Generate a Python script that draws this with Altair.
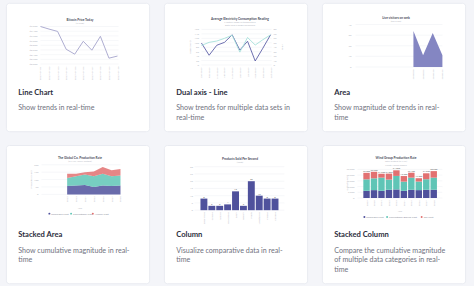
import altair as alt
import pandas as pd

FONT = "Lato"
INK = "#2b2d3c"
MUTED = "#707280"
TICK = "#b9bbc6"
GRID = "#f0f1f5"
PURPLE = "#4f519c"
TEAL = "#5fc5b6"
SALMON = "#e27171"
LAVENDER = "#a4a3cb"
LIGHT_TEAL = "#a6e0da"
AREA_FILL = "#8486c2"

CARD_W = 145
ROW1_H = 130
ROW2_H = 140

# ---------------- data ----------------
btc_dates = ["2019-07-01", "2019-07-02", "2019-07-03", "2019-07-04", "2019-07-05",
             "2019-07-06", "2019-07-07", "2019-07-08", "2019-07-09", "2019-07-10"]
btc_price = [9600, 9490, 9390, 8630, 8420, 8970, 8590, 9180, 8250, 8340]
btc_ticks = [8000, 8200, 8400, 8600, 8800, 9000, 9200, 9400, 9600]

elec_months = ["Jan 2019", "Feb 2019", "Mar 2019", "Apr 2019", "May 2019",
               "Jun 2019", "Jul 2019", "Aug 2019", "Sep 2019", "Oct 2019"]
elec_usage = [99, 44, 89, 102, 136, 67, 107, 18, 76, 136]
elec_temp = [44, 51, 54, 60, 67, 29, 62, 45, 57, 68]
elec_left_ticks = [0, 20, 40, 60, 80, 100, 120, 140, 160]
elec_right_ticks = [0, 10, 20, 30, 40, 50, 60, 70, 80]

visit_times = ["10:00:00", "10:00:05", "10:00:10", "10:00:15"]
visit_counts = [34, 11, 32, 11]
visit_ticks = [0, 10, 20, 30, 40]

area_years = ["2012", "2013", "2014", "2015", "2016", "2017", "2018"]
area_renew = [56, 60, 63, 49, 60, 56, 60]
area_conv = [55, 62, 71, 73, 80, 67, 67]
area_nuclear = [29, 17, 16, 33, 45, 40, 45]
area_ticks = [0, 50, 100, 150, 200]
area_series = ["Renewable Plant", "Conventional Plant", "Nuclear Plant"]

col_products = ["Baby Food", "Cereals", "Snacks", "Beverages", "Dairy",
                "Bakery", "Fruits", "Vegetables", "Frozen", "Canned"]
col_sold = [8, 3, 3, 4, 13, 3, 20, 10, 8, 8]
col_ticks = [0, 5, 10, 15, 20, 25, 30]

sc_years = ["2009", "2010", "2011", "2012", "2013", "2014", "2015", "2016", "2017", "2018"]
sc_renew = [6300, 6900, 6300, 7200, 7500, 6300, 7200, 6900, 7200, 7200]
sc_conv = [10000, 10300, 11500, 8900, 11800, 8000, 10600, 7500, 9200, 10600]
sc_gas = [5700, 5700, 3400, 5200, 4900, 4900, 4300, 2900, 5200, 5700]
sc_ticks = [0, 5000, 10000, 15000, 20000, 25000]
sc_series = ["Renewable Plant", "Conventional Backup Plant", "Gas Plant"]

card_titles = ["Line Chart", "Dual axis - Line", "Area",
               "Stacked Area", "Column", "Stacked Column"]
card_descs = [
    ["Show trends in real-time"],
    ["Show trends for multiple data sets in", "real-time"],
    ["Show magnitude of trends in real-", "time"],
    ["Show cumulative magnitude in real-", "time"],
    ["Visualize comparative data in real-", "time"],
    ["Compare the cumulative magnitude", "of multiple data categories in real-", "time"],
]

mini_titles = [
    ("Bitcoin Price Today", ["(in USD)"]),
    ("Average Electricity Consumption Reading", ["Monthly usage vs temperature", "Data from a single household"]),
    ("Live visitors on web", ["(per 5 sec)"]),
    ("The Global Co. Production Rate", ["(in MW, Yearly Output)"]),
    ("Products Sold Per Second", ["(units)"]),
    ("Wind Group Production Rate", ["Total Output (in MW)", "Plants Across Region"]),
]


# ---------------- helpers ----------------
def sc(dom, rng):
    return alt.Scale(domain=dom, range=rng, zero=False, nice=False)


def txt(s, x, y, size, color, weight="normal", align="left", angle=0):
    kw = dict(fontSize=size, color=color, font=FONT, fontWeight=weight,
              align=align, baseline="middle")
    if angle:
        kw["angle"] = angle
    return alt.Chart(pd.DataFrame({"t": [s]})).mark_text(**kw).encode(
        x=alt.value(x), y=alt.value(y), text="t:N")


def grid(ticks, ys, x0, x1):
    return alt.Chart(pd.DataFrame({"v": ticks})).mark_rule(
        color=GRID, strokeWidth=0.6).encode(
        y=alt.Y("v:Q", scale=ys, axis=None), x=alt.value(x0), x2=alt.value(x1))


def ylabels(ticks, ys, x, fmt, align="right"):
    return alt.Chart(pd.DataFrame({"v": ticks})).mark_text(
        fontSize=2.6, color=TICK, font=FONT, align=align, baseline="middle").encode(
        y=alt.Y("v:Q", scale=ys, axis=None), x=alt.value(x),
        text=alt.Text("v:Q", format=fmt))


def xlabels(cats, xs, y):
    df = pd.DataFrame({"i": list(range(len(cats))), "c": cats})
    return alt.Chart(df).mark_text(
        fontSize=2.6, color=TICK, font=FONT, angle=270, align="right",
        baseline="middle").encode(
        x=alt.X("i:Q", scale=xs, axis=None), y=alt.value(y), text="c:N")


def head(k, cx, y0):
    t, subs = mini_titles[k]
    out = [txt(t, cx, y0, 3.2, "#4a4c5c", "bold", "center")]
    for j, s in enumerate(subs):
        out.append(txt(s, cx, y0 + 3.6 + 3.2 * j, 2.4, TICK, "normal", "center"))
    return out


def card_text(k):
    out = [txt(card_titles[k], 12.5, 91.5, 7.7, INK, "bold")]
    for j, line in enumerate(card_descs[k]):
        out.append(txt(line, 12.5, 107 + 9.8 * j, 7.2, MUTED))
    return out


def legend_item(color, label, x, y):
    dot = alt.Chart(pd.DataFrame({"t": [label]})).mark_circle(
        size=4, color=color, opacity=1).encode(x=alt.value(x), y=alt.value(y))
    return [dot, txt(label, x + 2, y, 2.4, "#8d8f9c")]


# ---------------- card 1: line ----------------
xs1 = sc([0, 9], [35, 113])
ys1 = sc([8000, 9600], [62, 24])
df1 = pd.DataFrame({"i": list(range(len(btc_price))), "p": btc_price})
line1 = alt.Chart(df1).mark_line(color=LAVENDER, strokeWidth=0.9).encode(
    x=alt.X("i:Q", scale=xs1, axis=None), y=alt.Y("p:Q", scale=ys1, axis=None))
card1 = alt.layer(
    grid(btc_ticks, ys1, 35, 114),
    ylabels(btc_ticks, ys1, 32, "$,.0f"),
    line1,
    xlabels(btc_dates, xs1, 64.5),
    *head(0, 75, 17),
    *card_text(0),
).properties(width=CARD_W, height=ROW1_H)

# ---------------- card 2: dual axis ----------------
xs2 = sc([0, 9], [38, 108])
ys2l = sc([0, 160], [63, 27])
ys2r = sc([0, 80], [63, 27])
df2 = pd.DataFrame({"i": list(range(len(elec_usage))), "u": elec_usage, "t": elec_temp})
left2 = alt.layer(
    grid(elec_left_ticks, ys2l, 38, 109),
    ylabels(elec_left_ticks, ys2l, 35.5, ".0f"),
    alt.Chart(df2).mark_line(color="#5b5ea6", strokeWidth=0.9).encode(
        x=alt.X("i:Q", scale=xs2, axis=None), y=alt.Y("u:Q", scale=ys2l, axis=None)),
    xlabels(elec_months, xs2, 65.5),
)
right2 = alt.layer(
    ylabels(elec_right_ticks, ys2r, 111, ".0f", align="left"),
    alt.Chart(df2).mark_line(color=LIGHT_TEAL, strokeWidth=0.9).encode(
        x=alt.X("i:Q", scale=xs2, axis=None), y=alt.Y("t:Q", scale=ys2r, axis=None)),
)
mini2 = alt.layer(left2, right2).resolve_scale(y="independent")
card2 = alt.layer(
    mini2,
    txt("Usage (kWh)", 26, 45, 2.4, TICK, "normal", "center", 270),
    txt("Temp", 120, 45, 2.4, TICK, "normal", "center", 270),
    *head(1, 77, 16),
    *card_text(1),
).properties(width=CARD_W, height=ROW1_H)

# ---------------- card 3: area ----------------
xs3 = sc([-6, 3], [34, 122])
ys3 = sc([0, 40], [65, 22])
df3 = pd.DataFrame({"i": list(range(len(visit_counts))), "v": visit_counts})
area3 = alt.Chart(df3).mark_area(color=AREA_FILL, opacity=1).encode(
    x=alt.X("i:Q", scale=xs3, axis=None), y=alt.Y("v:Q", scale=ys3, axis=None))
card3 = alt.layer(
    grid(visit_ticks, ys3, 34, 122),
    ylabels(visit_ticks, ys3, 30, ".0f"),
    area3,
    xlabels(visit_times, xs3, 67.5),
    *head(2, 75, 15),
    *card_text(2),
).properties(width=CARD_W, height=ROW1_H)

# ---------------- card 4: stacked area ----------------
xs4 = sc([-3, 6], [35, 116])
ys4 = sc([0, 200], [50, 20])
rows4 = []
for i in range(len(area_years)):
    lo = 0
    for s, vals in enumerate([area_renew, area_conv, area_nuclear]):
        rows4.append({"i": i, "s": str(s), "lo": lo, "hi": lo + vals[i]})
        lo += vals[i]
df4 = pd.DataFrame(rows4)
cols3 = alt.Scale(domain=["0", "1", "2"], range=[PURPLE, TEAL, SALMON])
area4 = alt.Chart(df4).mark_area(opacity=0.85).encode(
    x=alt.X("i:Q", scale=xs4, axis=None),
    y=alt.Y("hi:Q", scale=ys4, axis=None), y2="lo:Q",
    color=alt.Color("s:N", scale=cols3, legend=None))
card4 = alt.layer(
    grid(area_ticks, ys4, 36, 116),
    ylabels(area_ticks, ys4, 33, ".0f"),
    area4,
    xlabels(area_years, xs4, 52),
    txt("Production (MW)", 25, 35, 2.4, TICK, "normal", "center", 270),
    txt("Year", 75, 64, 2.4, TICK, "normal", "center"),
    *legend_item(PURPLE, area_series[0], 44, 69.5),
    *legend_item(TEAL, area_series[1], 66, 69.5),
    *legend_item(SALMON, area_series[2], 88, 69.5),
    *head(3, 75, 13),
    *card_text(3),
).properties(width=CARD_W, height=ROW2_H)

# ---------------- card 5: column ----------------
xs5 = sc([-0.5, 9.5], [31.5, 121.5])
ys5 = sc([0, 30], [66, 22])
df5 = pd.DataFrame({"i": list(range(len(col_sold))), "v": col_sold})
bars5 = alt.Chart(df5).mark_bar(color=PURPLE, size=7).encode(
    x=alt.X("i:Q", scale=xs5, axis=None), y=alt.Y("v:Q", scale=ys5, axis=None))
vals5 = alt.Chart(df5).mark_text(fontSize=2.5, color="#666", font=FONT, dy=-2).encode(
    x=alt.X("i:Q", scale=xs5, axis=None), y=alt.Y("v:Q", scale=ys5, axis=None), text="v:Q")
card5 = alt.layer(
    grid(col_ticks, ys5, 31, 122),
    ylabels(col_ticks, ys5, 29.5, ".0f"),
    bars5, vals5,
    xlabels(col_products, xs5, 68),
    *head(4, 77, 14),
    *card_text(4),
).properties(width=CARD_W, height=ROW2_H)

# ---------------- card 6: stacked column ----------------
xs6 = sc([-0.5, 9.5], [36.4, 122])
ys6 = sc([0, 25000], [53.7, 24.7])
rows6 = []
tot6 = []
for i in range(len(sc_years)):
    lo = 0
    for s, vals in enumerate([sc_renew, sc_conv, sc_gas]):
        rows6.append({"i": i, "s": str(s), "lo": lo, "hi": lo + vals[i]})
        lo += vals[i]
    tot6.append({"i": i, "t": lo})
df6 = pd.DataFrame(rows6)
bars6 = alt.Chart(df6).mark_bar(size=6.5).encode(
    x=alt.X("i:Q", scale=xs6, axis=None),
    y=alt.Y("hi:Q", scale=ys6, axis=None), y2="lo:Q",
    color=alt.Color("s:N", scale=cols3, legend=None))
tot6c = alt.Chart(pd.DataFrame(tot6)).mark_text(fontSize=2.3, color="#666", font=FONT, dy=-2).encode(
    x=alt.X("i:Q", scale=xs6, axis=None), y=alt.Y("t:Q", scale=ys6, axis=None),
    text=alt.Text("t:Q", format=",.0f"))
card6 = alt.layer(
    grid(sc_ticks, ys6, 36, 122),
    ylabels(sc_ticks, ys6, 33, ",.0f"),
    bars6, tot6c,
    xlabels(sc_years, xs6, 56),
    txt("Output (MW)", 25, 39, 2.4, TICK, "normal", "center", 270),
    txt("Year", 79, 67, 2.4, TICK, "normal", "center"),
    *legend_item(PURPLE, sc_series[0], 43, 73),
    *legend_item(TEAL, sc_series[1], 66, 73),
    *legend_item(SALMON, sc_series[2], 101, 73),
    *head(5, 75, 13),
    *card_text(5),
).properties(width=CARD_W, height=ROW2_H)

chart = alt.vconcat(
    alt.hconcat(card1, card2, card3, spacing=13),
    alt.hconcat(card4, card5, card6, spacing=13),
    spacing=12,
).properties(
    padding={"left": 5, "top": 0, "right": 8, "bottom": 4},
    background="#f4f5f9",
).configure_view(
    fill="white", stroke="#e9ebf1", strokeWidth=1, cornerRadius=3,
)

chart.save("out.html", embed_options={"renderer": "svg", "actions": False})
